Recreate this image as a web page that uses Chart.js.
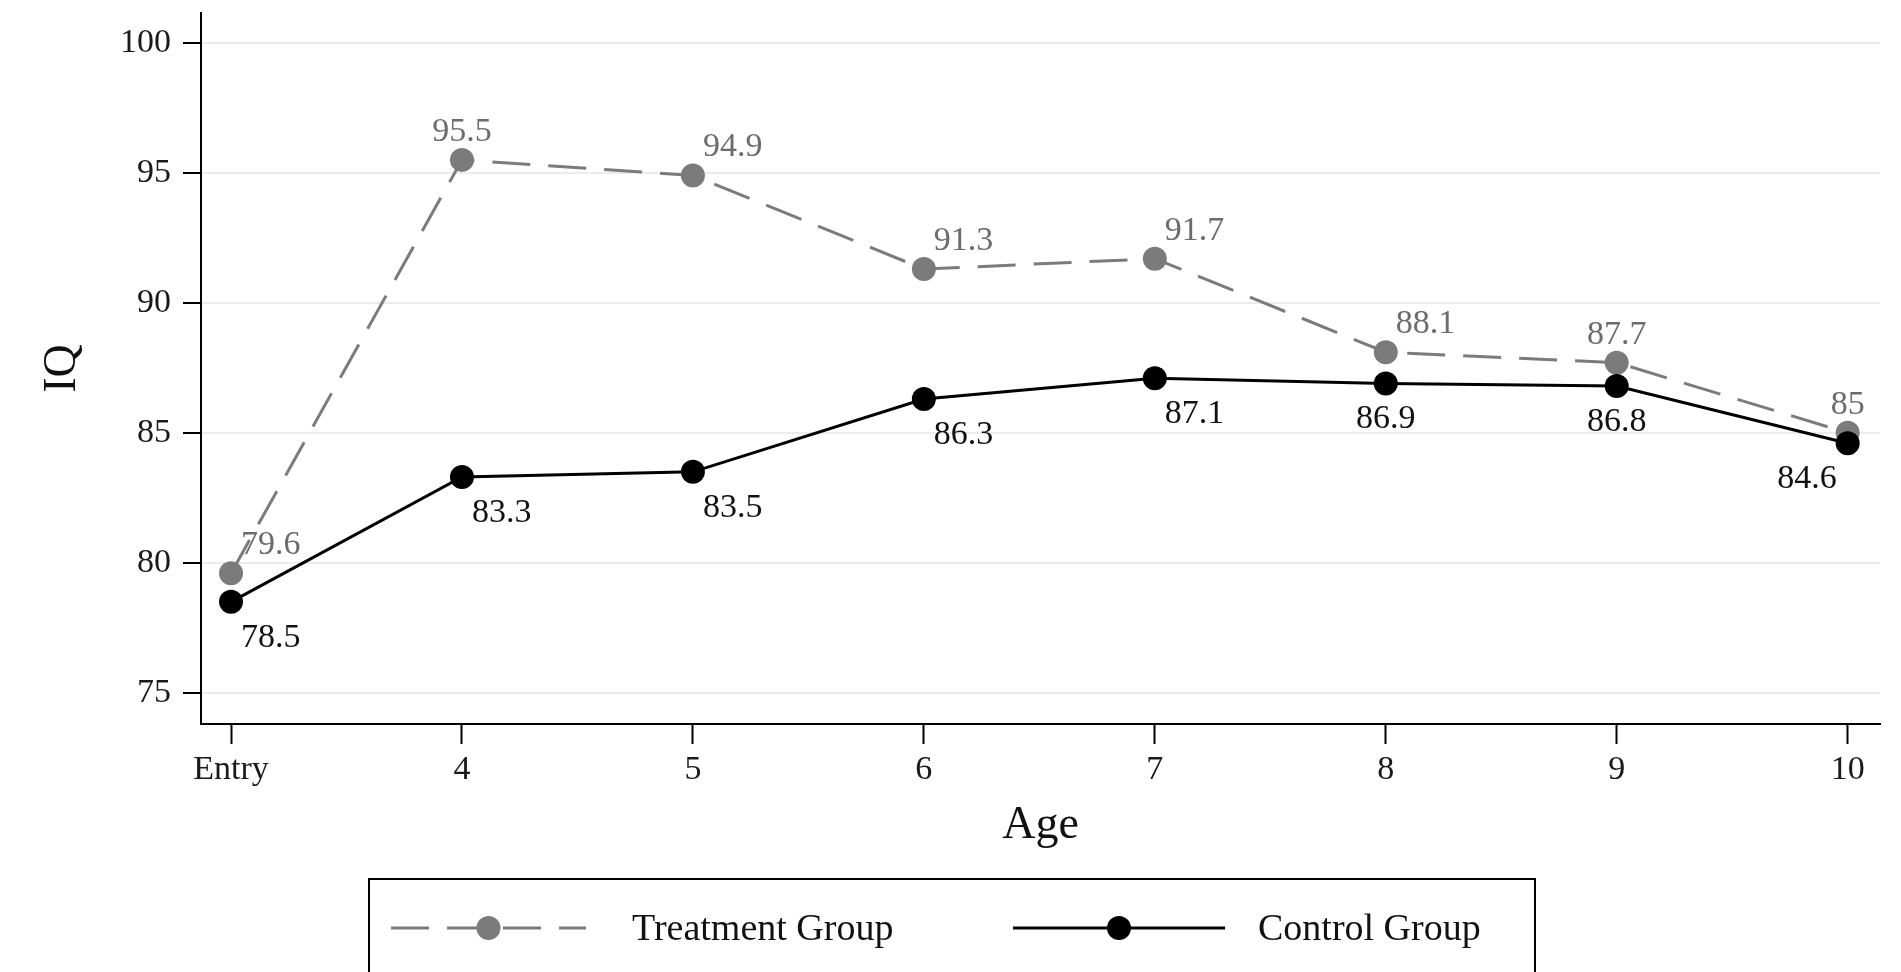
<!DOCTYPE html>
<html>
<head>
<meta charset="utf-8">
<title>IQ by Age</title>
<script src="https://cdn.jsdelivr.net/npm/chart.js@4/dist/chart.umd.min.js"></script>
<style>
  html, body { margin: 0; padding: 0; background: #fff; overflow: hidden; }
  canvas { display: block; }
</style>
</head>
<body>
<canvas id="chart" width="1901" height="972"></canvas>
<script>
const ageLabels = ["Entry", "4", "5", "6", "7", "8", "9", "10"];
const treatmentValues = [79.6, 95.5, 94.9, 91.3, 91.7, 88.1, 87.7, 85];
const controlValues = [78.5, 83.3, 83.5, 86.3, 87.1, 86.9, 86.8, 84.6];
const yTickValues = [75, 80, 85, 90, 95, 100];

// where each value label sits relative to its point
const treatmentLabelPos = ["ne", "n", "ne", "ne", "ne", "ne", "n", "n"];
const controlLabelPos = ["se", "se", "se", "se", "se", "s", "s", "sw"];

const serif = "'Liberation Serif', 'DejaVu Serif', serif";
const grayColor = "#7b7b7b";

const valueLabels = {
    id: "valueLabels",
    afterDatasetsDraw(chart) {
        const ctx = chart.ctx;
        ctx.save();
        ctx.font = "34px " + serif;
        ctx.textBaseline = "alphabetic";
        chart.data.datasets.forEach((ds, di) => {
            const meta = chart.getDatasetMeta(di);
            meta.data.forEach((pt, i) => {
                const pos = ds.labelPos[i];
                const text = String(ds.data[i].y);
                let x = pt.x, y = pt.y;
                if (pos[0] === "n") y -= 19; else y += 45;
                if (pos.endsWith("e")) { ctx.textAlign = "left"; x += 10; }
                else if (pos.endsWith("w")) { ctx.textAlign = "right"; x -= 11; }
                else ctx.textAlign = "center";
                ctx.fillStyle = ds.labelColor;
                ctx.fillText(text, x, y);
            });
        });
        ctx.restore();
    }
};

const boxLegend = {
    id: "boxLegend",
    afterDraw(chart) {
        const ctx = chart.ctx;
        const top = 879, left = 369, right = 1535, midY = 928;
        ctx.save();
        ctx.strokeStyle = "#000";
        ctx.lineWidth = 2;
        ctx.strokeRect(left, top, right - left, 140);

        const items = [
            { ds: chart.data.datasets[1], x0: 391, x1: 586, tx: 632 },
            { ds: chart.data.datasets[0], x0: 1013, x1: 1225, tx: 1258 }
        ];
        items.forEach(it => {
            ctx.strokeStyle = it.ds.borderColor;
            ctx.lineWidth = it.ds.borderWidth;
            ctx.setLineDash(it.ds.borderDash || []);
            ctx.beginPath();
            ctx.moveTo(it.x0, midY);
            ctx.lineTo(it.x1, midY);
            ctx.stroke();
            ctx.setLineDash([]);
            ctx.fillStyle = it.ds.pointBackgroundColor;
            ctx.beginPath();
            ctx.arc((it.x0 + it.x1) / 2, midY, it.ds.pointRadius, 0, Math.PI * 2);
            ctx.fill();
            ctx.fillStyle = "#111";
            ctx.font = "38px " + serif;
            ctx.textAlign = "left";
            ctx.textBaseline = "middle";
            ctx.fillText(it.ds.label, it.tx, midY + 2);
        });
        ctx.restore();
    }
};

new Chart(document.getElementById("chart"), {
    type: "line",
    data: {
        datasets: [
            {
                label: "Control Group",
                data: controlValues.map((v, i) => ({ x: i, y: v })),
                borderColor: "#000",
                borderWidth: 3,
                pointRadius: 12,
                pointBackgroundColor: "#000",
                pointBorderWidth: 0,
                labelPos: controlLabelPos,
                labelColor: "#111"
            },
            {
                label: "Treatment Group",
                data: treatmentValues.map((v, i) => ({ x: i, y: v })),
                borderColor: grayColor,
                borderWidth: 3,
                borderDash: [38, 18],
                pointRadius: 12,
                pointBackgroundColor: grayColor,
                pointBorderWidth: 0,
                labelPos: treatmentLabelPos,
                labelColor: "#6c6c6c"
            }
        ]
    },
    options: {
        responsive: false,
        devicePixelRatio: 1,
        animation: false,
        layout: { padding: { left: 0, top: 13, right: 21, bottom: 108 } },
        plugins: {
            legend: { display: false },
            tooltip: { enabled: false }
        },
        scales: {
            x: {
                type: "linear",
                min: -0.13,
                max: 7.14,
                afterBuildTicks: scale => {
                    scale.ticks = ageLabels.map((l, i) => ({ value: i }));
                },
                afterFit: scale => {
                    scale.height = 140;
                    scale.paddingLeft = 0;
                    scale.paddingRight = 0;
                },
                ticks: {
                    callback: v => ageLabels[v],
                    font: { family: serif, size: 34 },
                    color: "#1a1a1a",
                    padding: 6,
                    maxRotation: 0
                },
                grid: {
                    drawOnChartArea: false,
                    tickLength: 20,
                    tickColor: "#000",
                    tickWidth: 2
                },
                border: { color: "#000", width: 2 },
                title: {
                    display: true,
                    text: "Age",
                    font: { family: serif, size: 46 },
                    color: "#111",
                    padding: { top: 0, bottom: 10 }
                }
            },
            y: {
                min: 73.8,
                max: 101.15,
                afterBuildTicks: scale => {
                    scale.ticks = yTickValues.map(v => ({ value: v }));
                },
                afterFit: scale => {
                    scale.width = 201;
                    scale.paddingTop = 0;
                    scale.paddingBottom = 0;
                },
                ticks: {
                    font: { family: serif, size: 34 },
                    color: "#1a1a1a",
                    padding: 12
                },
                grid: {
                    color: "#ececec",
                    lineWidth: 2,
                    tickLength: 18,
                    tickColor: "#000",
                    tickWidth: 2
                },
                border: { color: "#000", width: 2 },
                title: {
                    display: true,
                    text: "IQ",
                    font: { family: serif, size: 46 },
                    color: "#111",
                    padding: { top: 35, bottom: 0 }
                }
            }
        }
    },
    plugins: [valueLabels, boxLegend]
});
</script>
</body>
</html>
